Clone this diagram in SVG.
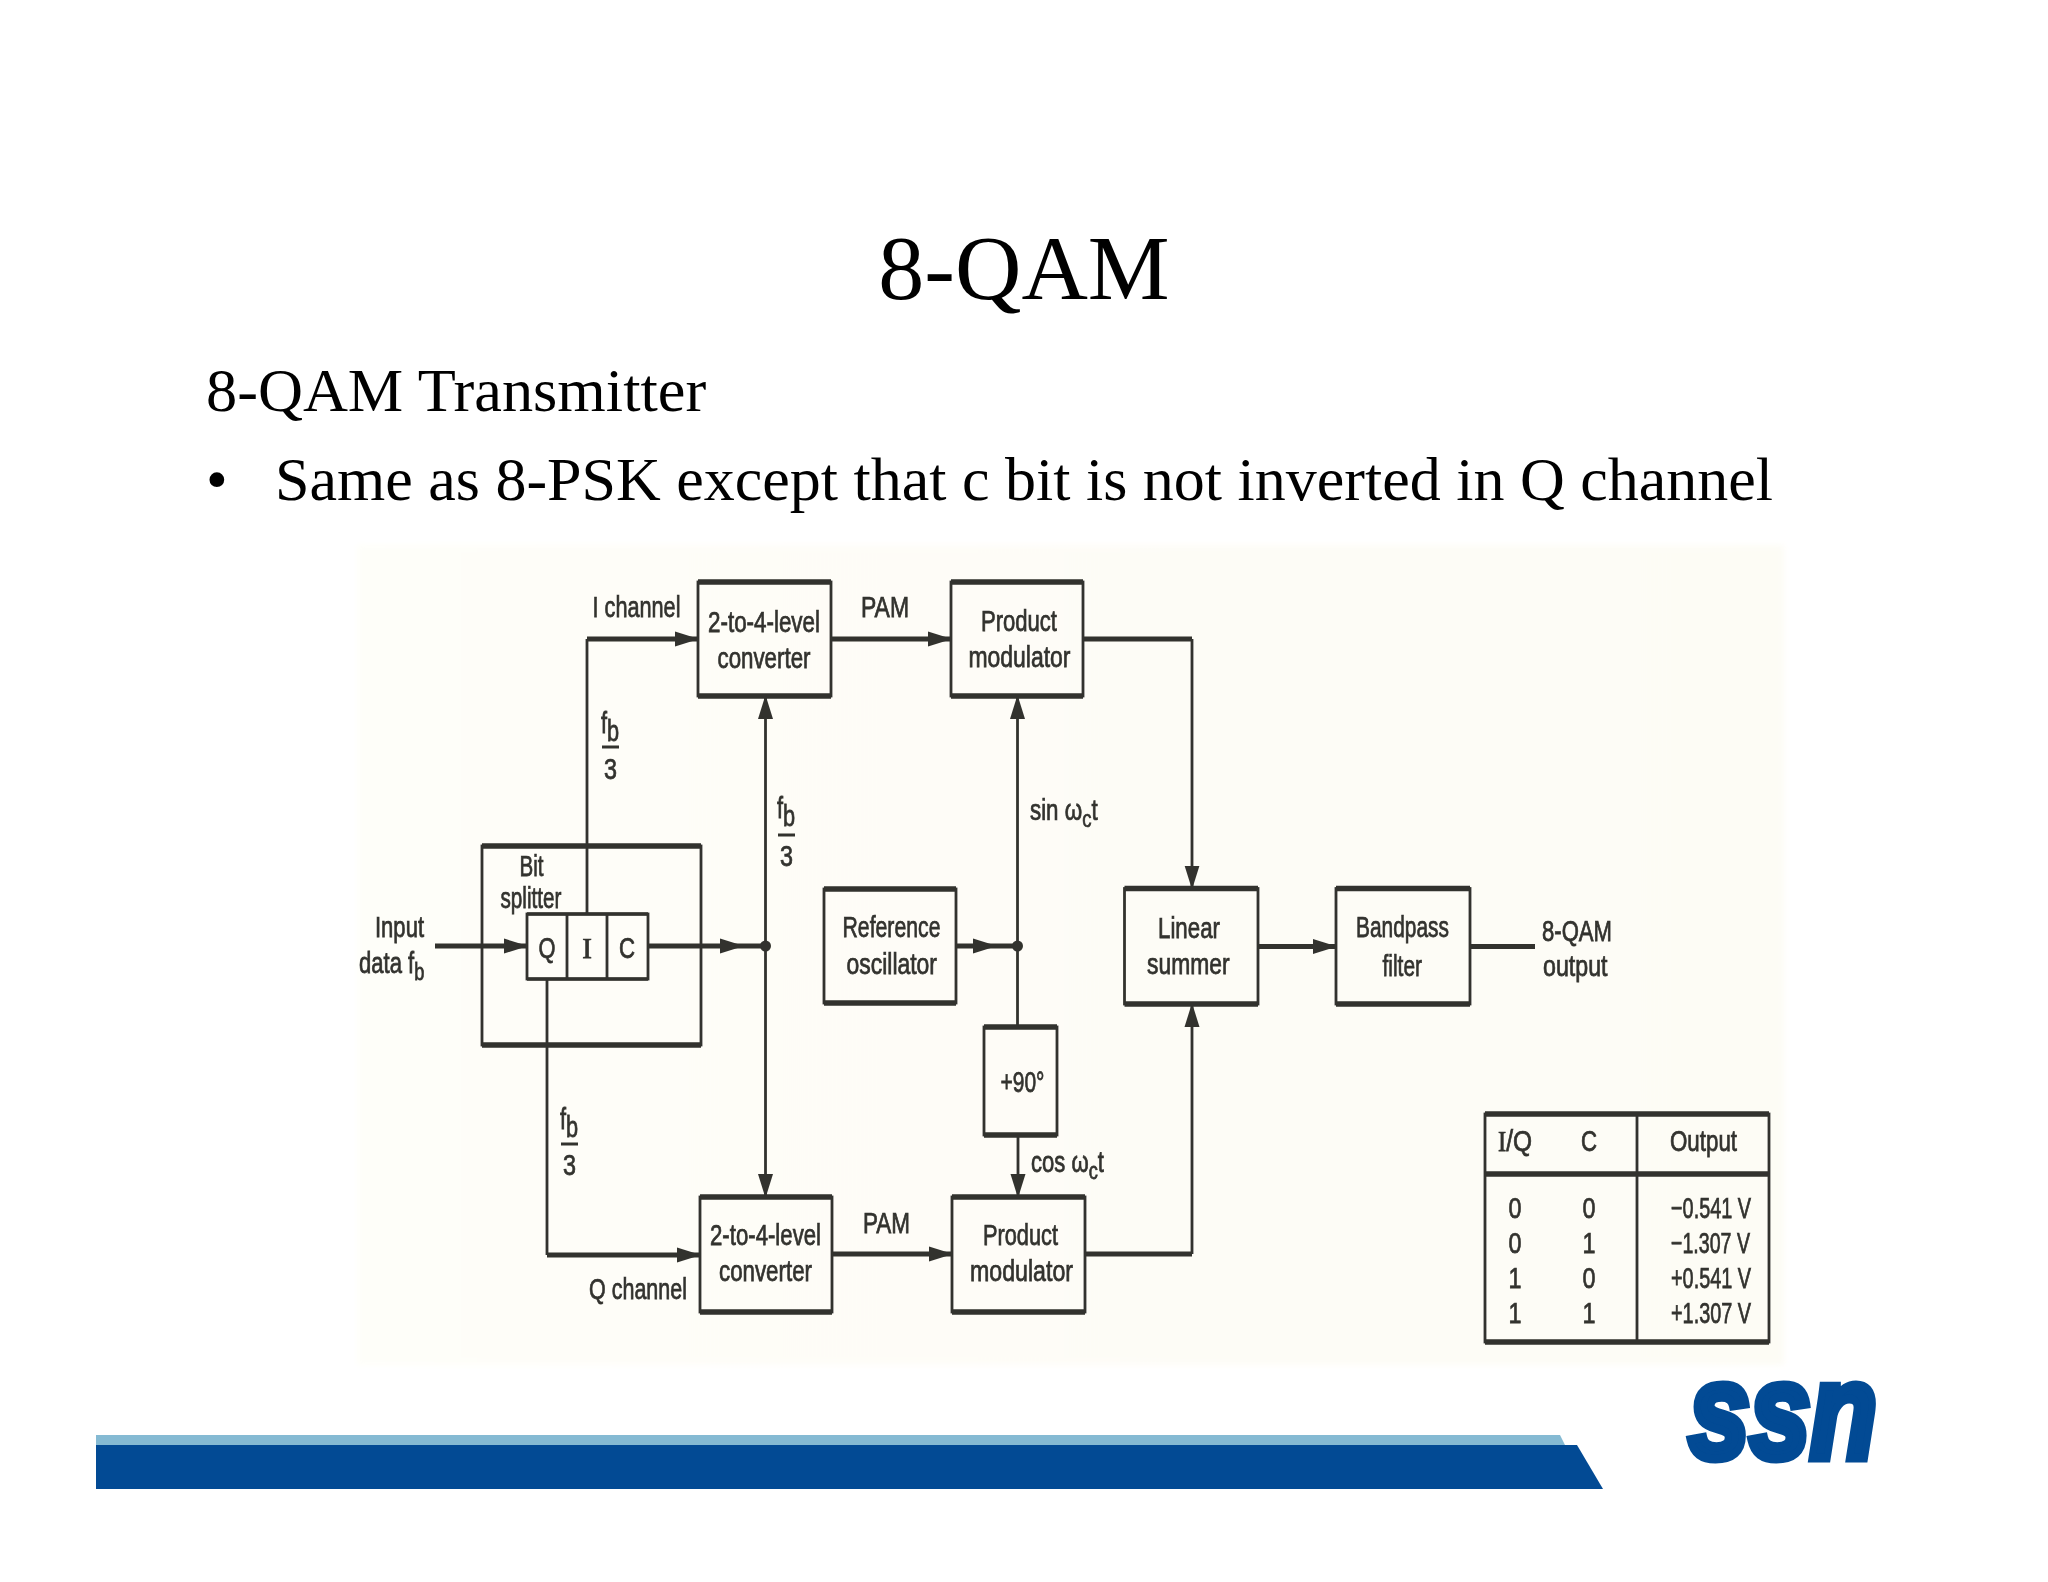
<svg xmlns="http://www.w3.org/2000/svg" width="2048" height="1582" viewBox="0 0 2048 1582">
<style>
text{font-family:"Liberation Sans",Arial,sans-serif;}
.l{font-size:29px;fill:#33332f;stroke:#33332f;stroke-width:.75px;}
.t{font-family:"Liberation Serif","Times New Roman",serif;fill:#000;}
.bx{fill:none;stroke:#33332f;stroke-width:2.8;}
.tb{fill:none;stroke:#33332f;stroke-width:5.5;}
.th{fill:none;stroke:#33332f;stroke-width:5;}
.tn{fill:none;stroke:#33332f;stroke-width:2.8;}
</style>
<defs>
<marker id="ah" markerUnits="userSpaceOnUse" markerWidth="24" markerHeight="18" refX="23" refY="9" orient="auto"><polygon points="0,1.500 24,9 0,16.500" fill="#33332f"/></marker>
<linearGradient id="bg" x1="0" x2="1" y1="0" y2="0"><stop offset="0" stop-color="#fefef9"/><stop offset=".2" stop-color="#fefdf8"/><stop offset="1" stop-color="#fdfcf5"/></linearGradient>
<filter id="soft" x="-2%" y="-2%" width="104%" height="104%"><feGaussianBlur stdDeviation="0.55"/></filter>
<filter id="edge" x="-3%" y="-3%" width="106%" height="106%"><feGaussianBlur stdDeviation="3"/></filter>
</defs>
<rect width="2048" height="1582" fill="#fff"/>
<rect id="scan-bg" x="357" y="545" width="1427" height="820" fill="url(#bg)" filter="url(#edge)"/>
<g id="heading">
<text class="t" x="1024" y="299" font-size="92" text-anchor="middle">8-QAM</text>
<text class="t" x="206" y="411" font-size="62.300">8-QAM Transmitter</text>
<text class="t" x="206" y="500" font-size="62">•</text>
<text class="t" x="275" y="500" font-size="62">Same as 8-PSK except that c bit is not inverted in Q channel</text>
</g>
<g filter="url(#soft)">
<g id="connectors">
<path class="th" d="M587 639H698" marker-end="url(#ah)"/>
<path class="tn" d="M587 914V639"/>
<path class="th" d="M832 639H951" marker-end="url(#ah)"/>
<path class="th" d="M1083 639H1192"/>
<path class="tn" d="M1192 639V888.500" marker-end="url(#ah)"/>
<path class="th" d="M435 946H527" marker-end="url(#ah)"/>
<path class="th" d="M648 946H743" marker-end="url(#ah)"/>
<path class="th" d="M743 946H765"/>
<path class="tn" d="M765.500 946V696" marker-end="url(#ah)"/>
<path class="tn" d="M765.500 946V1197" marker-end="url(#ah)"/>
<path class="th" d="M956 946H996" marker-end="url(#ah)"/>
<path class="th" d="M996 946H1017"/>
<path class="tn" d="M1017.500 1027V696" marker-end="url(#ah)"/>
<path class="tn" d="M1018 1135V1197" marker-end="url(#ah)"/>
<path class="tn" d="M547 979V1255"/>
<path class="th" d="M547 1255H700" marker-end="url(#ah)"/>
<path class="th" d="M832 1254H952" marker-end="url(#ah)"/>
<path class="th" d="M1085 1254H1192"/>
<path class="tn" d="M1192 1254V1004" marker-end="url(#ah)"/>
<path class="th" d="M1258 946.500H1336" marker-end="url(#ah)"/>
<path class="th" d="M1470 946.500H1535"/>
<circle cx="765.500" cy="946" r="5.500" fill="#33332f"/>
<circle cx="1017.500" cy="946" r="5.500" fill="#33332f"/>
</g>
<g id="input-label">
<text class="l" x="375" y="937" textLength="49" lengthAdjust="spacingAndGlyphs">Input</text>
<text class="l" transform="translate(359 973) scale(.76 1)">data f<tspan dy="7" font-size="24">b</tspan></text>
</g>
<g id="bit-splitter">
<rect class="bx" x="482" y="846" width="219" height="199"/>
<path class="tb" d="M482 846H701M482 1045H701"/>
<text class="l" x="519.500" y="876" textLength="24" lengthAdjust="spacingAndGlyphs">Bit</text>
<text class="l" x="500.500" y="908" textLength="61" lengthAdjust="spacingAndGlyphs">splitter</text>
</g>
<g id="qic">
<rect class="bx" x="527" y="914" width="121" height="65"/>
<path class="tb" style="stroke-width:3.500" d="M527 914H648M527 979H648"/>
<path class="bx" d="M567 914V979M607 914V979"/>
<text class="l" x="547" y="958" text-anchor="middle" textLength="17" lengthAdjust="spacingAndGlyphs">Q</text>
<text class="l" x="587" y="958" text-anchor="middle" style="font-family:'Liberation Serif',serif">I</text>
<text class="l" x="627" y="958" text-anchor="middle" textLength="16" lengthAdjust="spacingAndGlyphs">C</text>
</g>
<g id="converter-i">
<rect class="bx" x="698" y="582" width="133" height="114"/>
<path class="tb" d="M698 582H831M698 696H831"/>
<text class="l" x="708" y="632" textLength="112" lengthAdjust="spacingAndGlyphs">2-to-4-level</text>
<text class="l" x="717.500" y="668" textLength="93" lengthAdjust="spacingAndGlyphs">converter</text>
</g>
<g id="modulator-i">
<rect class="bx" x="951" y="582" width="132" height="114"/>
<path class="tb" d="M951 582H1083M951 696H1083"/>
<text class="l" x="981" y="631" textLength="76" lengthAdjust="spacingAndGlyphs">Product</text>
<text class="l" x="968.500" y="667" textLength="102" lengthAdjust="spacingAndGlyphs">modulator</text>
</g>
<g id="reference-oscillator">
<rect class="bx" x="824" y="889" width="132" height="114"/>
<path class="tb" d="M824 889H956M824 1003H956"/>
<text class="l" x="842.500" y="937" textLength="98" lengthAdjust="spacingAndGlyphs">Reference</text>
<text class="l" x="846.500" y="974" textLength="90.500" lengthAdjust="spacingAndGlyphs">oscillator</text>
</g>
<g id="phase-shift">
<rect class="bx" x="984" y="1027" width="73" height="108"/>
<path class="tb" d="M984 1027H1057M984 1135H1057"/>
<text class="l" x="1000.500" y="1091.500" textLength="44" lengthAdjust="spacingAndGlyphs">+90°</text>
</g>
<g id="converter-q">
<rect class="bx" x="700" y="1197" width="132" height="115"/>
<path class="tb" d="M700 1197H832M700 1312H832"/>
<text class="l" x="710" y="1245" textLength="111" lengthAdjust="spacingAndGlyphs">2-to-4-level</text>
<text class="l" x="719" y="1281" textLength="93" lengthAdjust="spacingAndGlyphs">converter</text>
</g>
<g id="modulator-q">
<rect class="bx" x="952" y="1197" width="133" height="115"/>
<path class="tb" d="M952 1197H1085M952 1312H1085"/>
<text class="l" x="983" y="1245" textLength="75" lengthAdjust="spacingAndGlyphs">Product</text>
<text class="l" x="970" y="1281" textLength="103" lengthAdjust="spacingAndGlyphs">modulator</text>
</g>
<g id="linear-summer">
<rect class="bx" x="1124.500" y="888.500" width="133.500" height="115.500"/>
<path class="tb" d="M1124.500 888.500H1258M1124.500 1004H1258"/>
<text class="l" x="1158" y="938" textLength="62" lengthAdjust="spacingAndGlyphs">Linear</text>
<text class="l" x="1147" y="974" textLength="82.500" lengthAdjust="spacingAndGlyphs">summer</text>
</g>
<g id="bandpass-filter">
<rect class="bx" x="1336" y="888.500" width="134" height="115.500"/>
<path class="tb" d="M1336 888.500H1470M1336 1004H1470"/>
<text class="l" x="1356" y="936.500" textLength="93" lengthAdjust="spacingAndGlyphs">Bandpass</text>
<text class="l" x="1382.500" y="976" textLength="39.500" lengthAdjust="spacingAndGlyphs">filter</text>
</g>
<g id="labels">
<text class="l" x="592.500" y="617" textLength="88" lengthAdjust="spacingAndGlyphs">I channel</text>
<text class="l" x="589" y="1299" textLength="98" lengthAdjust="spacingAndGlyphs">Q channel</text>
<text class="l" x="861" y="617" textLength="48" lengthAdjust="spacingAndGlyphs">PAM</text>
<text class="l" x="863" y="1233" textLength="47" lengthAdjust="spacingAndGlyphs">PAM</text>
<text class="l" x="1542" y="940.500" textLength="70" lengthAdjust="spacingAndGlyphs">8-QAM</text>
<text class="l" x="1543" y="976" textLength="64.500" lengthAdjust="spacingAndGlyphs">output</text>
<text class="l" transform="translate(1030 820) scale(.77 1)">sin ω<tspan dy="7" font-size="24">c</tspan><tspan dy="-7">t</tspan></text>
<text class="l" transform="translate(1031 1172) scale(.76 1)">cos ω<tspan dy="7" font-size="24">c</tspan><tspan dy="-7">t</tspan></text>
<text class="l" transform="translate(601 733) scale(.75 1)">f<tspan dy="8">b</tspan></text>
<path class="tn" style="stroke-width:3" d="M602 747H619"/>
<text class="l" x="610.500" y="779" text-anchor="middle" textLength="13" lengthAdjust="spacingAndGlyphs">3</text>
<text class="l" transform="translate(777 818) scale(.75 1)">f<tspan dy="8">b</tspan></text>
<path class="tn" style="stroke-width:3" d="M778 835H795"/>
<text class="l" x="786.500" y="866" text-anchor="middle" textLength="13" lengthAdjust="spacingAndGlyphs">3</text>
<text class="l" transform="translate(560 1129) scale(.75 1)">f<tspan dy="8">b</tspan></text>
<path class="tn" style="stroke-width:3" d="M561 1144H578"/>
<text class="l" x="569.500" y="1175" text-anchor="middle" textLength="13" lengthAdjust="spacingAndGlyphs">3</text>
</g>
<g id="truth-table">
<rect class="bx" x="1485" y="1114" width="284" height="228"/>
<path class="tb" d="M1485 1114H1769M1485 1174H1769M1485 1342H1769"/>
<path class="bx" d="M1637 1114V1342"/>
<text class="l" x="1515" y="1151" text-anchor="middle" textLength="34" lengthAdjust="spacingAndGlyphs"><tspan style="font-family:'Liberation Serif',serif">I</tspan>/Q</text>
<text class="l" x="1589" y="1151" text-anchor="middle" textLength="16" lengthAdjust="spacingAndGlyphs">C</text>
<text class="l" x="1670" y="1151" textLength="67" lengthAdjust="spacingAndGlyphs">Output</text>
<text class="l" x="1515" y="1218" text-anchor="middle" textLength="13" lengthAdjust="spacingAndGlyphs">0</text><text class="l" x="1589" y="1218" text-anchor="middle" textLength="13" lengthAdjust="spacingAndGlyphs">0</text><text class="l" x="1671" y="1218" textLength="80" lengthAdjust="spacingAndGlyphs">−0.541 V</text>
<text class="l" x="1515" y="1253" text-anchor="middle" textLength="13" lengthAdjust="spacingAndGlyphs">0</text><text class="l" x="1589" y="1253" text-anchor="middle" textLength="13" lengthAdjust="spacingAndGlyphs">1</text><text class="l" x="1671" y="1253" textLength="79" lengthAdjust="spacingAndGlyphs">−1.307 V</text>
<text class="l" x="1515" y="1288" text-anchor="middle" textLength="13" lengthAdjust="spacingAndGlyphs">1</text><text class="l" x="1589" y="1288" text-anchor="middle" textLength="13" lengthAdjust="spacingAndGlyphs">0</text><text class="l" x="1671" y="1288" textLength="80" lengthAdjust="spacingAndGlyphs">+0.541 V</text>
<text class="l" x="1515" y="1323" text-anchor="middle" textLength="13" lengthAdjust="spacingAndGlyphs">1</text><text class="l" x="1589" y="1323" text-anchor="middle" textLength="13" lengthAdjust="spacingAndGlyphs">1</text><text class="l" x="1671" y="1323" textLength="80" lengthAdjust="spacingAndGlyphs">+1.307 V</text>
</g>
</g>
<g id="footer">
<polygon points="96,1435 1560,1435 1565,1445 96,1445" fill="#85bad3"/>
<polygon points="96,1445 1577,1445 1603,1489 96,1489" fill="#024a94"/>
<text x="1689" y="1458" font-size="136" font-weight="bold" font-style="italic" fill="#024a94" stroke="#024a94" stroke-width="9" textLength="188" lengthAdjust="spacingAndGlyphs">ssn</text>
</g>
</svg>
